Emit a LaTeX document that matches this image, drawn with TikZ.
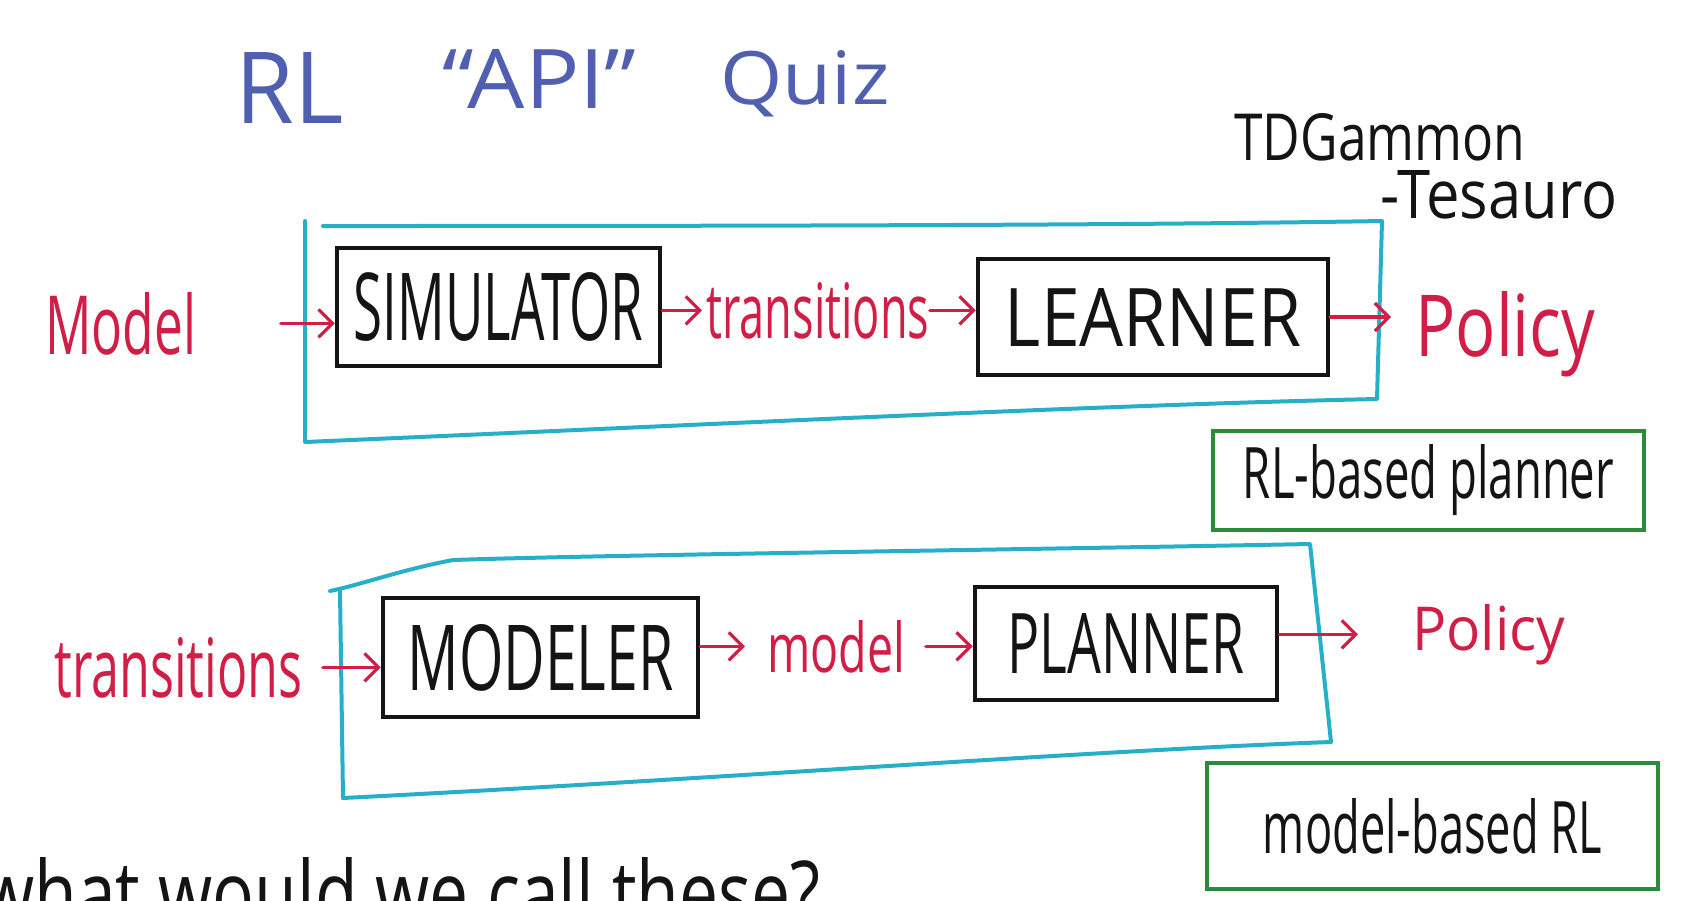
\documentclass[tikz,border=0pt]{standalone}
\usepackage{fontspec}
\setmainfont{Open Sans}
\usepackage{graphicx}
\usetikzlibrary{arrows.meta,calc}
\newlength\pxu \setlength\pxu{0.5pt}
\newcommand\fitt[3]{\resizebox{#1\pxu}{#2\pxu}{#3}}
\definecolor{ink}{RGB}{20,20,20}
\definecolor{mred}{RGB}{208,30,70}
\definecolor{mcyan}{RGB}{40,175,200}
\definecolor{mgreen}{RGB}{40,140,60}
\definecolor{mblue}{RGB}{80,95,175}
\begin{document}
\begin{tikzpicture}[x=0.5pt,y=-0.5pt,
  txt/.style={inner sep=0pt, anchor=base west, text=ink},
  redtxt/.style={txt, text=mred},
  bluetxt/.style={txt, text=mblue},
  blk/.style={draw=ink, line width=2.2pt, inner sep=0pt, text=ink},
  grn/.style={draw=mgreen, line width=2pt, inner sep=0pt, text=ink},
  cont/.style={draw=mcyan, line width=2pt, line join=round, line cap=round},
  arr/.style={draw=mred, line width=1.6pt, line cap=round,
    -{Straight Barb[length=7pt,width=14pt,line width=1.6pt]}}
]
\useasboundingbox (0,0) rectangle (1690,900);

% title
\node[bluetxt] (t1) at (235,123) {\fitt{108}{71}{RL}};
\node[bluetxt] (t2) at (442,108) {\fitt{194}{59}{``API''}};
\node[bluetxt] (t3) at (720,104) {\fitt{169}{54}{Quiz}};

% TDGammon note
\node[txt] (td) at (1234,160) {\fitt{291}{47}{TDGammon}};
\node[txt] (tes) at (1380,218) {\fitt{237}{48}{-Tesauro}};

% containers
\draw[cont] (305,221) -- (305,442) .. controls (700,425) and (1100,405) .. (1377,399)
  -- (1382,221) .. controls (1100,226) and (600,226) .. (323,226);
\draw[cont] (343,798) .. controls (700,780) and (1100,750) .. (1331,742)
  -- (1310,544) .. controls (1000,550) and (600,555) .. (453,560)
  .. controls (400,570) and (360,585) .. (330,591);
\draw[cont] (340,591) -- (343,798);

% boxes
\node[blk, minimum width=161.5pt, minimum height=59pt] (SIM) at (498.5,307) {\fitt{289}{68}{SIMULATOR}};
\node[blk, minimum width=175pt, minimum height=58pt] (LEARN) at (1153,317) {\fitt{296}{58}{LEARNER}};
\node[blk, minimum width=157.5pt, minimum height=59.5pt] (MOD) at (540.5,657.5) {\fitt{266}{66}{MODELER}};
\node[blk, minimum width=151pt, minimum height=56.5pt] (PLAN) at (1126,643.5) {\fitt{237}{60}{PLANNER}};
\node[grn, minimum width=215.5pt, minimum height=49.5pt] (RLP) at (1428.5,480.5) {\fitt{371}{54}{RL-based planner}};
\node[grn, minimum width=225.5pt, minimum height=63pt] (MBRL) at (1432.5,826) {\fitt{339}{55}{model-based RL}};

% red labels
\node[redtxt] (Model) at (45,354) {\fitt{151}{62}{Model}};
\node[redtxt] (trT) at (706,338) {\fitt{223}{56}{transitions}};
\node[redtxt] (PolT) at (1415,356) {\fitt{180}{65}{Policy}};
\node[redtxt] (trB) at (54,697) {\fitt{248}{60}{transitions}};
\node[redtxt] (model) at (767,672) {\fitt{138}{52}{model}};
\node[redtxt] (PolB) at (1412,650) {\fitt{153}{46}{Policy}};

% arrows
\draw[arr] ([xshift=42pt]Model.east) -- (Model.east -| SIM.west);
\draw[arr, shorten >=2pt] (SIM.east |- trT.west) -- (trT.west);
\draw[arr] (trT.east) -- (trT.east -| LEARN.west);
\draw[arr, shorten >=12pt] (LEARN.east) -- (LEARN.east -| PolT.west);
\draw[arr] ([xshift=10pt]trB.east) -- (trB.east -| MOD.west);
\draw[arr, shorten >=11pt] (MOD.east |- model.west) -- (model.west);
\draw[arr] ([xshift=10pt]model.east) -- (model.east -| PLAN.west);
\draw[arr, shorten >=27pt] (PLAN.east |- PolB.west) -- (PolB.west);

% bottom question, cut off by the page edge as in the reference
\begin{scope}
\clip (0,0) rectangle (1690,900);
\node[txt] (q) at (-20,925) {\fitt{840}{68}{what would we call these?}};
\end{scope}
\end{tikzpicture}
\end{document}
